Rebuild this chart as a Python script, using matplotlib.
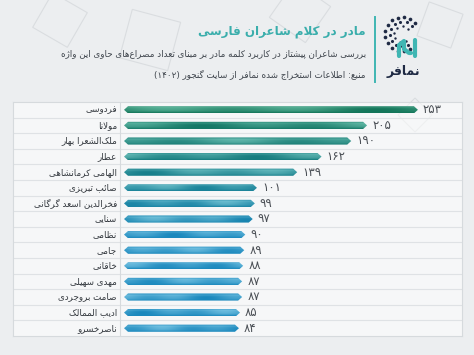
import numpy as np
import matplotlib.pyplot as plt
from matplotlib.patches import Polygon, Rectangle
from matplotlib.colors import to_rgb

# data
poets = ['فردوسی', 'مولانا', 'ملک\u200cالشعرا بهار', 'عطار', 'الهامی کرمانشاهی',
         'صائب تبریزی', 'فخرالدین اسعد گرگانی', 'سنایی', 'نظامی', 'جامی',
         'خاقانی', 'مهدی سهیلی', 'صامت بروجردی', 'ادیب الممالک', 'ناصرخسرو']
counts = [253, 205, 190, 162, 139, 101, 99, 97, 90, 89, 88, 87, 87, 85, 84]

title = 'مادر در کلام شاعران فارسی'
subtitle = 'بررسی شاعران پیشتاز در کاربرد کلمه مادر بر مبنای تعداد مصراع\u200cهای حاوی این واژه'
source = 'منبع: اطلاعات استخراج شده نمافر از سایت گنجور (1402)'
brand = 'نمافر'

# --- tiny arabic/persian shaper (matplotlib has no shaping) ---
FORMS = {
    'ا': (0xFE8D, 0xFE8E), 'آ': (0xFE81, 0xFE82), 'د': (0xFEA9, 0xFEAA),
    'ذ': (0xFEAB, 0xFEAC), 'ر': (0xFEAD, 0xFEAE), 'ز': (0xFEAF, 0xFEB0),
    'ژ': (0xFB8A, 0xFB8B), 'و': (0xFEED, 0xFEEE),
    'ب': (0xFE8F, 0xFE90, 0xFE91, 0xFE92), 'پ': (0xFB56, 0xFB57, 0xFB58, 0xFB59),
    'ت': (0xFE95, 0xFE96, 0xFE97, 0xFE98), 'ث': (0xFE99, 0xFE9A, 0xFE9B, 0xFE9C),
    'ج': (0xFE9D, 0xFE9E, 0xFE9F, 0xFEA0), 'چ': (0xFB7A, 0xFB7B, 0xFB7C, 0xFB7D),
    'ح': (0xFEA1, 0xFEA2, 0xFEA3, 0xFEA4), 'خ': (0xFEA5, 0xFEA6, 0xFEA7, 0xFEA8),
    'س': (0xFEB1, 0xFEB2, 0xFEB3, 0xFEB4), 'ش': (0xFEB5, 0xFEB6, 0xFEB7, 0xFEB8),
    'ص': (0xFEB9, 0xFEBA, 0xFEBB, 0xFEBC), 'ض': (0xFEBD, 0xFEBE, 0xFEBF, 0xFEC0),
    'ط': (0xFEC1, 0xFEC2, 0xFEC3, 0xFEC4), 'ظ': (0xFEC5, 0xFEC6, 0xFEC7, 0xFEC8),
    'ع': (0xFEC9, 0xFECA, 0xFECB, 0xFECC), 'غ': (0xFECD, 0xFECE, 0xFECF, 0xFED0),
    'ف': (0xFED1, 0xFED2, 0xFED3, 0xFED4), 'ق': (0xFED5, 0xFED6, 0xFED7, 0xFED8),
    'ک': (0xFB8E, 0xFB8F, 0xFB90, 0xFB91), 'گ': (0xFB92, 0xFB93, 0xFB94, 0xFB95),
    'ل': (0xFEDD, 0xFEDE, 0xFEDF, 0xFEE0), 'م': (0xFEE1, 0xFEE2, 0xFEE3, 0xFEE4),
    'ن': (0xFEE5, 0xFEE6, 0xFEE7, 0xFEE8), 'ه': (0xFEE9, 0xFEEA, 0xFEEB, 0xFEEC),
    'ی': (0xFBFC, 0xFBFD, 0xFBFE, 0xFBFF), 'ئ': (0xFE89, 0xFE8A, 0xFE8B, 0xFE8C),
}
DIG = str.maketrans('0123456789', '۰۱۲۳۴۵۶۷۸۹')


def dual(c):
    return c in FORMS and len(FORMS[c]) == 4


def fa(s):
    s = s.translate(DIG)
    out = []
    i = 0
    n = len(s)
    while i < n:
        c = s[i]
        if c not in FORMS:
            if c != '\u200c':
                out.append(c)
            i += 1
            continue
        prev = s[i - 1] if i > 0 else ''
        jp = dual(prev)
        if c == 'ل' and i + 1 < n and s[i + 1] == 'ا':
            out.append(chr(0xFEFC if jp else 0xFEFB))
            i += 2
            continue
        nxt = s[i + 1] if i + 1 < n else ''
        jn = dual(c) and nxt in FORMS
        f = FORMS[c]
        if jp and jn:
            k = 3
        elif jn:
            k = 2
        elif jp:
            k = 1
        else:
            k = 0
        out.append(chr(f[k]))
        i += 1
    # visual order: reverse, keep digit runs LTR, mirror brackets
    vis = ''.join(out)[::-1]
    res, run = [], ''
    for ch in vis:
        if ch in '۰۱۲۳۴۵۶۷۸۹':
            run += ch
        else:
            if run:
                res.append(run[::-1])
                run = ''
            res.append({'(': ')', ')': '('}.get(ch, ch))
    if run:
        res.append(run[::-1])
    return ''.join(res)


plt.rcParams['font.family'] = ['DejaVu Sans']

W, H = 474, 355
fig = plt.figure(figsize=(W / 100, H / 100), dpi=100)
fig.patch.set_facecolor('#eceef0')

# background / header layer in pixel coords
bg = fig.add_axes([0, 0, 1, 1])
bg.set_xlim(0, W)
bg.set_ylim(H, 0)
bg.axis('off')
for (cx, cy, s, a) in [(440, 25, 18, 20), (300, 12, 22, 35), (150, 40, 25, 15),
                       (415, 115, 12, 45), (60, 20, 20, 30)]:
    bg.add_patch(Rectangle((cx - s, cy - s), 2 * s, 2 * s, angle=a, rotation_point='center',
                           fill=False, ec='#dadde0', lw=0.8))

bg.plot([375, 375], [17, 82], color='#3fb6b3', lw=1.4)
bg.text(366, 31, fa(title), ha='right', va='center', fontsize=8.6, fontweight='bold',
        color='#3aaeac')
bg.text(366, 54, fa(subtitle), ha='right', va='center', fontsize=6.3, color='#3e444c')
bg.text(366, 74, fa(source), ha='right', va='center', fontsize=6.3, color='#3e444c')

# logo
for r, ns, sz in [(17, 13, 7), (12.5, 10, 5), (8, 7, 3)]:
    ang = np.linspace(np.deg2rad(-40), np.deg2rad(-300), ns)
    bg.scatter(402 + r * np.cos(ang), 34 + r * np.sin(ang), s=sz, color='#1f2a44', lw=0)
bg.plot([399, 399, 404, 404], [56, 45, 41, 49], color='#3fb6b3', lw=3,
        solid_capstyle='round', solid_joinstyle='round')
bg.plot([404, 409, 411], [49, 53, 53], color='#3fb6b3', lw=3, solid_capstyle='round')
bg.plot([415, 415], [40, 56], color='#3fb6b3', lw=3, solid_capstyle='round')
bg.text(403, 71, fa(brand), ha='center', va='center', fontsize=9, fontweight='bold',
        color='#1f2a44')

# chart panel
x0, x1, y0, y1 = 13, 462, 102, 336
ax = fig.add_axes([x0 / W, 1 - y1 / H, (x1 - x0) / W, (y1 - y0) / H])
ax.set_facecolor((1, 1, 1, 0.55))
pxu = 1.059          # pixels per unit
org = 150            # pixel of value 0
xmin = (x0 - org) / pxu
xmax = (x1 - org) / pxu
ax.set_xticks([])
ax.set_yticks([])
for sp in ax.spines.values():
    sp.set_color('#d6dadd')
    sp.set_linewidth(0.8)
for k in range(len(poets) - 1):
    ax.axhline(k + 0.5, color='#dfe2e5', lw=0.8)
sep = (120 - org) / pxu
ax.axvline(sep, color='#d6dadd', lw=0.8)

base = (124 - org) / pxu
tip = 4.0 / pxu
hh = 0.23
green_d, green_l = np.array(to_rgb('#137559')), np.array(to_rgb('#7fd3ba'))
blue_d, blue_l = np.array(to_rgb('#1a88bd')), np.array(to_rgb('#93d5ee'))

for i, (name, v) in enumerate(zip(poets, counts)):
    t = min(i / 8.0, 1.0)
    dark = green_d * (1 - t) + blue_d * t
    light = green_l * (1 - t) + blue_l * t
    poly = Polygon([(base, i), (base + tip, i - hh), (v - tip, i - hh), (v, i),
                    (v - tip, i + hh), (base + tip, i + hh)], closed=True,
                   fc='none', ec='none')
    ax.add_patch(poly)
    # texture: lighter band in the middle, dark edges, slow variation along bar
    yy = np.linspace(-1, 1, 20)[:, None]
    xx = np.linspace(0, 1, 200)[None, :]
    wave = 0.5 + 0.5 * np.sin(xx * 9 + i * 1.7) * np.cos(xx * 4 - i)
    mix = np.clip(0.6 * (1 - yy ** 2) * wave + 0.2 * (yy < -0.2), 0, 1)
    img = dark[None, None, :] * (1 - mix[..., None]) + light[None, None, :] * mix[..., None]
    im = ax.imshow(img, extent=(base, v, i + hh, i - hh), aspect='auto',
                   interpolation='bilinear', zorder=2)
    im.set_clip_path(poly)
    ax.text(v + 5 / pxu, i, fa(str(v)), ha='left', va='center', fontsize=8.5,
            color='#4a4f55')
    ax.text((117 - org) / pxu, i, fa(name), ha='right', va='center', fontsize=6.3,
            color='#33383e')

ax.set_xlim(xmin, xmax)
ax.set_ylim(len(poets) - 0.5, -0.5)

fig.savefig('out.png', dpi=100, facecolor=fig.get_facecolor())
